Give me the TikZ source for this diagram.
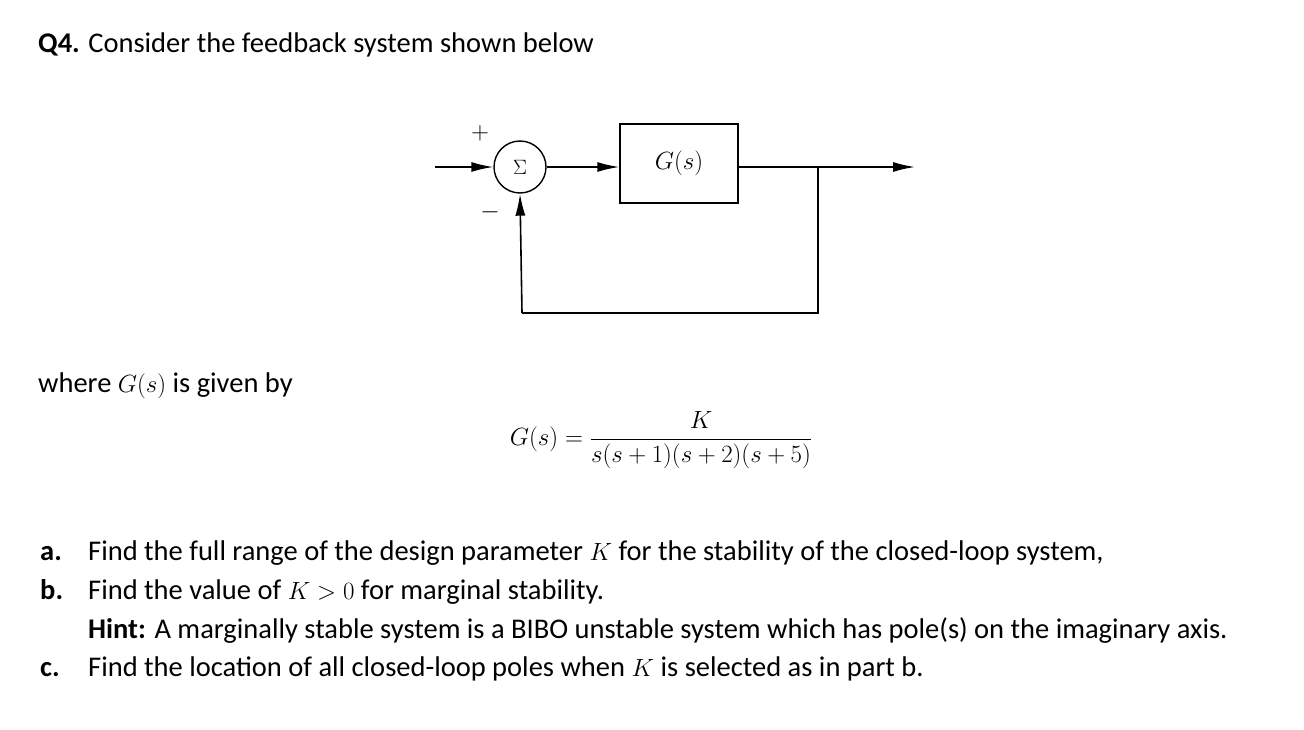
\documentclass[tikz,border=0pt]{standalone}
\usepackage{amsmath}
\usepackage{fontspec}
\setmainfont{Carlito}
\usetikzlibrary{arrows.meta}
\begin{document}
\begin{tikzpicture}[x=1pt,y=-1pt,
  txt/.style={anchor=base west,inner sep=0pt,font=\fontsize{28.5}{32}\selectfont},
  sig/.style={line width=1.6pt,-{Latex[length=22pt,width=10pt]}},
  ln/.style={line width=1.6pt}]
\useasboundingbox (0,0) rectangle (1304,730);
\node[txt] (t) at (38,53) {\textbf{Q4.} Consider the feedback system shown below};
\node[circle,draw,line width=1.4pt,minimum size=52pt,inner sep=0pt,font=\fontsize{22}{24}\selectfont] (sum) at (520,167) {$\Sigma$};
\node[draw,line width=1.4pt,minimum width=118pt,minimum height=79pt,font=\fontsize{25}{28}\selectfont] (g) at (679,163.5) {$G(s)$};
\coordinate (in) at (435,167);
\coordinate (out) at (915,167);
\coordinate (br) at (818,167);
\coordinate (c1) at (818,313);
\coordinate (c2) at (522,313);
\draw[sig] (in) -- (sum.west);
\draw[sig] (sum.east) -- (g.west|-sum.east);
\draw[sig] (g.east|-out) -- (out);
\draw[ln] (br) -- (c1) -- (c2);
\draw[sig] (c2) -- (sum.south);
\node[font=\fontsize{30}{32}\selectfont] (plus) at (480,133) {$+$};
\node[font=\fontsize{30}{32}\selectfont] (minus) at (490,212) {$-$};
\node[txt] (w) at (38,392) {where $G(s)$ is given by};
\node[anchor=center,font=\fontsize{31}{36}\selectfont] (eq) at (661,440) {$G(s) = \dfrac{K}{s(s+1)(s+2)(s+5)}$};
\node[txt] (la) at (40,560) {\textbf{a.}};
\node[txt] (a) at (88,560) {Find the full range of the design parameter $K$ for the stability of the closed-loop system,};
\node[txt] (lb) at (40,599) {\textbf{b.}};
\node[txt] (b) at (88,599) {Find the value of $K>0$ for marginal stability.};
\node[txt] (h) at (88,638) {\textbf{Hint:} A marginally stable system is a BIBO unstable system which has pole(s) on the imaginary axis.};
\node[txt] (lc) at (40,676) {\textbf{c.}};
\node[txt] (c) at (88,676) {Find the location of all closed-loop poles when $K$ is selected as in part b.};
\end{tikzpicture}
\end{document}
